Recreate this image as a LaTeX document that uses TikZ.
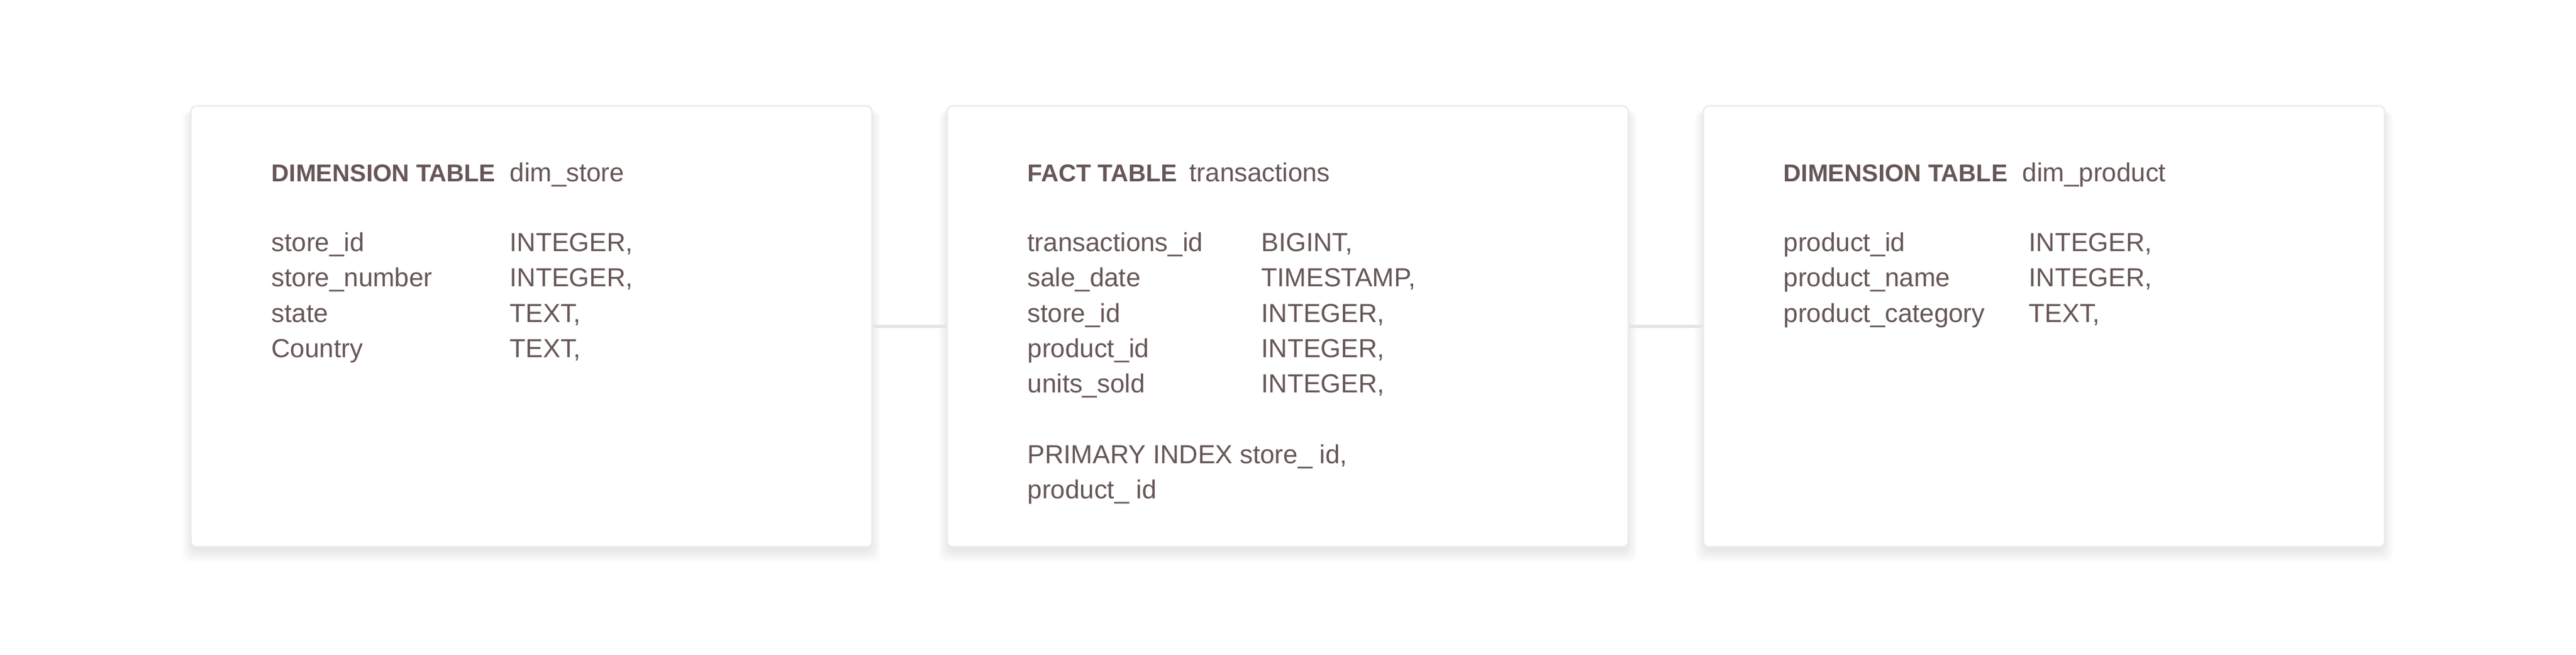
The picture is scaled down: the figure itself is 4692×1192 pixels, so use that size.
\documentclass[tikz,border=0pt]{standalone}
\usepackage{fontspec}
\setmainfont{Liberation Sans}
\usetikzlibrary{backgrounds}
\definecolor{ink}{HTML}{665756}
\definecolor{rim}{HTML}{F3E8E8}
\definecolor{wire}{HTML}{E7E4E3}

\begin{document}
\begin{tikzpicture}[x=0.01cm,y=-0.01cm]
\tikzstyle{table}=[rectangle, rounded corners=0.1cm, draw=rim, line width=0.03cm, fill=white, minimum width=12.4cm, minimum height=8.02cm]
\tikzstyle{connect}=[line width=0.06cm, draw=wire]
\tikzstyle{field}=[anchor=base west, inner sep=0pt, text=ink, font=\fontsize{13.5}{16}\selectfont]
\tikzstyle{head}=[field, font=\bfseries\fontsize{12.6}{16}\selectfont]
  \useasboundingbox (0,0) rectangle (4692,1192);
  \node[table] (S) at (968,594) {};
  \node[table] (T) at (2345.5,594) {};
  \node[table] (P) at (3723,594) {};
  \path
        (S) edge [connect] (T)
        (T) edge [connect] (P);
  % soft shadow under the tables
  \begin{scope}[on background layer]
    \fill[white] (0,0) rectangle (4692,1192);
    \foreach \b in {S,T,P}
      \foreach \r in {1,...,8}
        \fill[black, opacity=0.012, rounded corners=0.15cm]
          ([xshift=0.06cm-\r*0.025cm, yshift=-0.1cm]\b.north west) rectangle
          ([xshift=-0.06cm+\r*0.025cm, yshift=-0.02cm-\r*0.03cm]\b.south east);
  \end{scope}
  % dim_store
  \node[head] (Sh) at (494,331) {DIMENSION TABLE};
  \node[field] (Sn) at (928,331) {dim\_store};
  \node[field] (S1) at (494,458) {store\_id};
  \node[field] (S1t) at (928,458) {INTEGER,};
  \node[field] (S2) at (494,522) {store\_number};
  \node[field] (S2t) at (928,522) {INTEGER,};
  \node[field] (S3) at (494,587) {state};
  \node[field] (S3t) at (928,587) {TEXT,};
  \node[field] (S4) at (494,651) {Country};
  \node[field] (S4t) at (928,651) {TEXT,};
  % transactions
  \node[head] (Th) at (1871,331) {FACT TABLE};
  \node[field] (Tn) at (2166,331) {transactions};
  \node[field] (T1) at (1871,458) {transactions\_id};
  \node[field] (T1t) at (2297,458) {BIGINT,};
  \node[field] (T2) at (1871,522) {sale\_date};
  \node[field] (T2t) at (2297,522) {TIMESTAMP,};
  \node[field] (T3) at (1871,587) {store\_id};
  \node[field] (T3t) at (2297,587) {INTEGER,};
  \node[field] (T4) at (1871,651) {product\_id};
  \node[field] (T4t) at (2297,651) {INTEGER,};
  \node[field] (T5) at (1871,715) {units\_sold};
  \node[field] (T5t) at (2297,715) {INTEGER,};
  \node[field] (Tk1) at (1871,844) {PRIMARY INDEX store\_ id,};
  \node[field] (Tk2) at (1871,908) {product\_ id};
  % dim_product
  \node[head] (Ph) at (3248,331) {DIMENSION TABLE};
  \node[field] (Pn) at (3683,331) {dim\_product};
  \node[field] (P1) at (3248,458) {product\_id};
  \node[field] (P1t) at (3695,458) {INTEGER,};
  \node[field] (P2) at (3248,522) {product\_name};
  \node[field] (P2t) at (3695,522) {INTEGER,};
  \node[field] (P3) at (3248,587) {product\_category};
  \node[field] (P3t) at (3695,587) {TEXT,};
\end{tikzpicture}
\end{document}
